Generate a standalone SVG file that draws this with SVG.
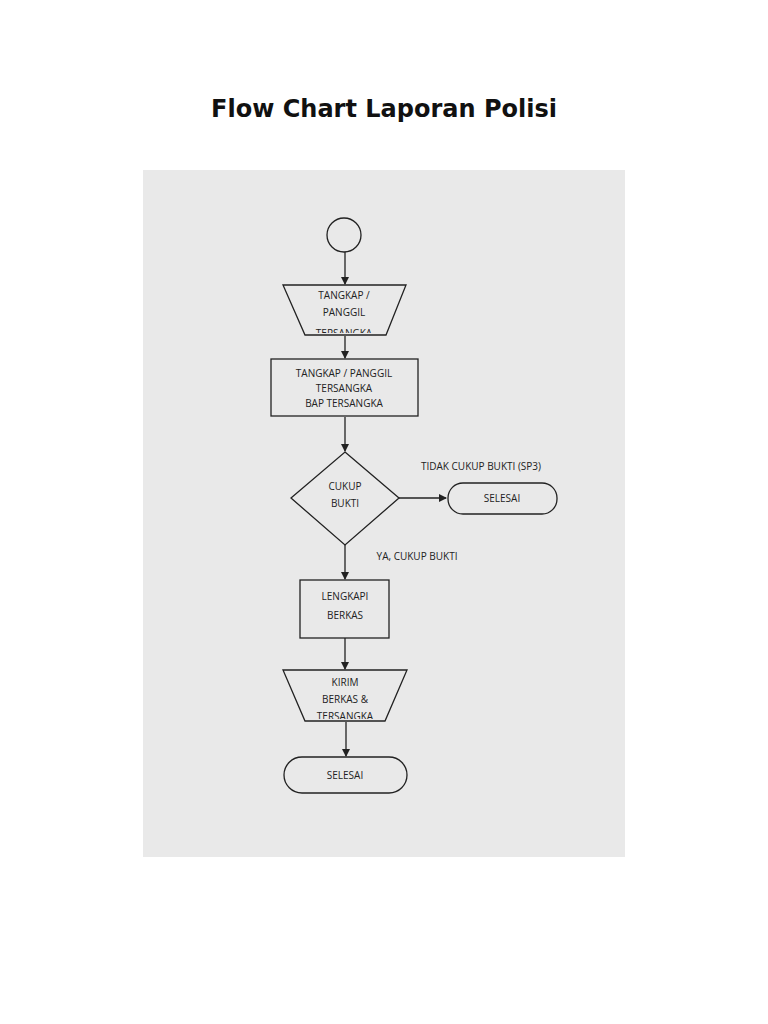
<svg xmlns="http://www.w3.org/2000/svg" width="768" height="1024" viewBox="0 0 768 1024">
<style>
.s{fill:none;stroke:#222;stroke-width:1.3}
.t{font-family:"Open Sans","Liberation Sans",sans-serif;font-size:10px;fill:#222;text-anchor:middle}
.c{stroke:#222;stroke-width:1.3;fill:none;marker-end:url(#a)}
</style>
<defs>
<marker id="a" markerWidth="8" markerHeight="8" refX="7" refY="4" orient="auto" markerUnits="userSpaceOnUse"><path d="M0,0L8,4L0,8z" fill="#222"/></marker>
<clipPath id="k1"><rect x="280" y="283" width="130" height="50"/></clipPath>
<clipPath id="k2"><rect x="280" y="668" width="130" height="51"/></clipPath>
</defs>
<rect width="768" height="1024" fill="#fff"/>
<text x="384" y="117" font-family="DejaVu Sans,sans-serif" font-size="24" font-weight="bold" text-anchor="middle" fill="#111">Flow Chart Laporan Polisi</text>
<rect x="143" y="170" width="482" height="687" fill="#e9e9e9"/>
<g id="connectors">
<line class="c" x1="345" y1="252" x2="345" y2="284"/>
<line class="c" x1="345" y1="336" x2="345" y2="358"/>
<line class="c" x1="345" y1="417" x2="345" y2="451"/>
<line class="c" x1="399" y1="498" x2="446" y2="498"/>
<line class="c" x1="345" y1="545" x2="345" y2="579"/>
<line class="c" x1="345" y1="638" x2="345" y2="669"/>
<line class="c" x1="346" y1="722" x2="346" y2="756"/>
</g>
<g id="start"><circle class="s" cx="344" cy="235" r="17"/></g>
<g id="n1"><polygon class="s" points="283,285 406,285 386,335 305,335"/>
<g clip-path="url(#k1)"><text class="t" x="344" y="299">TANGKAP /</text><text class="t" x="344" y="316">PANGGIL</text><text class="t" x="344" y="337">TERSANGKA</text></g></g>
<g id="n2"><rect class="s" x="271" y="359" width="147" height="57"/>
<text class="t" x="344" y="377">TANGKAP / PANGGIL</text><text class="t" x="344" y="392">TERSANGKA</text><text class="t" x="344" y="407">BAP TERSANGKA</text></g>
<g id="d"><polygon class="s" points="345,452 399,498 345,545 291,498"/>
<text class="t" x="345" y="490">CUKUP</text><text class="t" x="345" y="507">BUKTI</text></g>
<text class="t" x="481" y="470">TIDAK CUKUP BUKTI (SP3)</text>
<g id="e1"><rect class="s" x="448" y="483" width="109" height="31" rx="15"/><text class="t" x="502" y="502">SELESAI</text></g>
<text class="t" x="417" y="560">YA, CUKUP BUKTI</text>
<g id="n3"><rect class="s" x="300" y="580" width="89" height="58"/>
<text class="t" x="345" y="600">LENGKAPI</text><text class="t" x="345" y="619">BERKAS</text></g>
<g id="n4"><polygon class="s" points="283,670 407,670 385,721 305,721"/>
<g clip-path="url(#k2)"><text class="t" x="345" y="686">KIRIM</text><text class="t" x="345" y="703">BERKAS &amp;</text><text class="t" x="345" y="720">TERSANGKA</text></g></g>
<g id="e2"><rect class="s" x="284" y="757" width="123" height="36" rx="18"/><text class="t" x="345" y="779">SELESAI</text></g>
</svg>
